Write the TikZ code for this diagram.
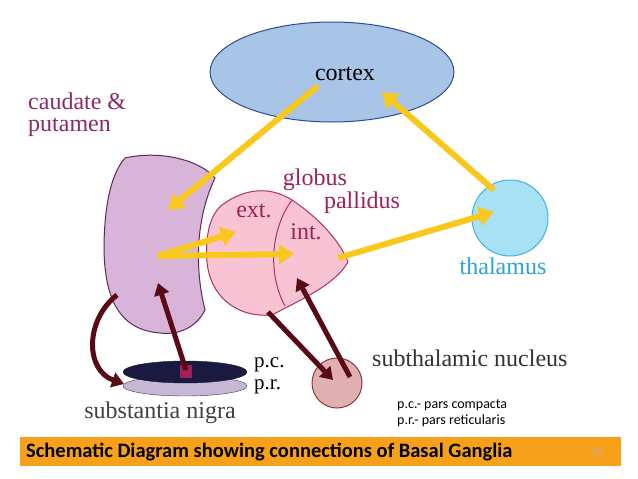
\documentclass[tikz,border=0pt]{standalone}
\usepackage{fontspec}
\setmainfont{Liberation Serif}
\newfontfamily\carl{Carlito}
\usetikzlibrary{arrows.meta,shapes.geometric}
\definecolor{cortexfill}{HTML}{A8C4E6}
\definecolor{cortexline}{HTML}{2C4C8C}
\definecolor{caudfill}{HTML}{D8B4D8}
\definecolor{caudline}{HTML}{5A2A5A}
\definecolor{gpfill}{HTML}{F8C4D4}
\definecolor{gpline}{HTML}{B03060}
\definecolor{thalfill}{HTML}{A8E0F4}
\definecolor{thalline}{HTML}{40B4E4}
\definecolor{labpurple}{HTML}{8A2A6A}
\definecolor{labpink}{HTML}{A02058}
\definecolor{thaltext}{HTML}{2AA4D4}
\definecolor{yarrow}{HTML}{F8C81C}
\definecolor{darr}{HTML}{5A0A14}
\definecolor{stnfill}{HTML}{E0B0B0}
\definecolor{stnline}{HTML}{8A3A3A}
\definecolor{pcfill}{HTML}{1A1A40}
\definecolor{prfill}{HTML}{C4B8D4}
\definecolor{bar}{HTML}{F7A11A}
\tikzset{
  yel/.style={draw=yarrow, line width=6pt, -{Triangle[length=15pt,width=19pt]}},
  dk/.style={draw=darr, line width=5pt, -{Triangle[length=12pt,width=15pt]}},
  lab/.style={font=\fontsize{24}{22}\selectfont, inner sep=0pt},
}
\begin{document}
\begin{tikzpicture}[x=1pt,y=-1pt]
\useasboundingbox (0,0) rectangle (638,479);
\fill[white] (0,0) rectangle (638,479);
% cortex
\node[draw=cortexline, fill=cortexfill, ellipse, line width=1pt, minimum width=244pt, minimum height=100pt, inner sep=0pt] (cortex) at (332,72) {};
\node[lab] (cortexl) at (345,74) {cortex};
% caudate
\draw[fill=caudfill, draw=caudline, line width=1pt] (125,158) .. controls (160,150) and (200,160) .. (215,178)
  .. controls (195,220) and (195,270) .. (205,310)
  .. controls (195,330) and (175,335) .. (160,333)
  .. controls (120,330) and (105,300) .. (104,250)
  .. controls (104,210) and (110,175) .. (125,158) -- cycle;
\node[lab, color=labpurple, align=left, anchor=west] (caudl) at (28,115) {caudate \&\\putamen};
% globus pallidus
\draw[fill=gpfill, draw=gpline, line width=1pt] (222,205) .. controls (245,188) and (270,186) .. (292,200)
  .. controls (315,215) and (340,240) .. (348,262)
  .. controls (335,285) and (300,300) .. (272,315)
  .. controls (235,318) and (210,295) .. (207,262)
  .. controls (205,235) and (210,215) .. (222,205) -- cycle;
\draw[draw=gpline, line width=1pt] (292,200) .. controls (270,230) and (268,275) .. (285,306);
\node[lab, color=labpink] (globl) at (315,180) {globus};
\node[lab, color=labpink] (palll) at (362,203) {pallidus};
\node[lab, color=labpink] (extl) at (254,211) {ext.};
\node[lab, color=labpink] (intl) at (306,232) {int.};
% thalamus
\node[draw=thalline, fill=thalfill, circle, line width=1pt, minimum size=76pt, inner sep=0pt] (thal) at (510,218) {};
\node[lab, color=thaltext] (thall) at (503,266) {thalamus};
% substantia nigra
\node[draw=caudline, fill=prfill, ellipse, minimum width=124pt, minimum height=20pt, inner sep=0pt] (pr) at (185,386) {};
\node[draw=pcfill, fill=pcfill, ellipse, minimum width=124pt, minimum height=22pt, inner sep=0pt] (pc) at (185,372) {};
\fill[color=labpink] (180,365) rectangle (192,378);
\node[lab, anchor=west, font=\fontsize{21}{21}\selectfont] (pcl) at (254,365) {p.c.};
\node[lab, anchor=west, font=\fontsize{21}{21}\selectfont] (prl) at (254,387) {p.r.};
\node[lab, color=black!75] (snl) at (160,413) {substantia nigra};
% STN
\node[draw=stnline, fill=stnfill, circle, line width=1pt, minimum size=50pt, inner sep=0pt] (stn) at (337,383) {};
\node[lab, anchor=west, color=black!80] (stnl) at (372,358) {subthalamic nucleus};
% coordinates
\coordinate (c1) at (318,86);
\coordinate (c2) at (168,210);
\coordinate (t1) at (494,190);
\coordinate (t2) at (382,92);
\coordinate (s1) at (158,256);
\coordinate (e1) at (236,232);
\coordinate (i1) at (294,254);
\coordinate (i2) at (338,258);
\coordinate (t3) at (494,212);
\coordinate (ca) at (117,295);
\coordinate (sa) at (124,384);
\coordinate (sp) at (186,370);
\coordinate (cb) at (158,283);
\coordinate (g1) at (268,312);
\coordinate (st1) at (333,380);
\coordinate (st2) at (350,377);
\coordinate (g2) at (297,278);
% yellow arrows
\draw[yel] (c1) -- (c2);
\draw[yel] (t1) -- (t2);
\draw[yel] (s1) -- (i1);
\draw[yel] (s1) -- (e1);
\draw[yel] (i2) -- (t3);
% dark arrows
\draw[dk] (ca) .. controls (85,320) and (85,370) .. (sa);
\draw[dk] (sp) -- (cb);
\draw[dk] (g1) -- (st1);
\draw[dk] (st2) -- (g2);
% notes
\node[anchor=west, inner sep=0pt, font=\carl\fontsize{14}{14}\selectfont] (n1) at (397,405) {p.c.- pars  compacta};
\node[anchor=west, inner sep=0pt, font=\carl\fontsize{14}{14}\selectfont] (n2) at (397,421) {p.r.- pars reticularis};
% bar
\fill[bar] (20,437) rectangle (621,466);
\node[anchor=west, inner sep=0pt, font=\carl\bfseries\fontsize{20.5}{20}\selectfont] (title) at (26,452) {Schematic Diagram showing connections of Basal Ganglia};
\node[inner sep=0pt, text=black!30, font=\carl\fontsize{10}{10}\selectfont] (pg) at (597,452) {30};
\end{tikzpicture}
\end{document}
